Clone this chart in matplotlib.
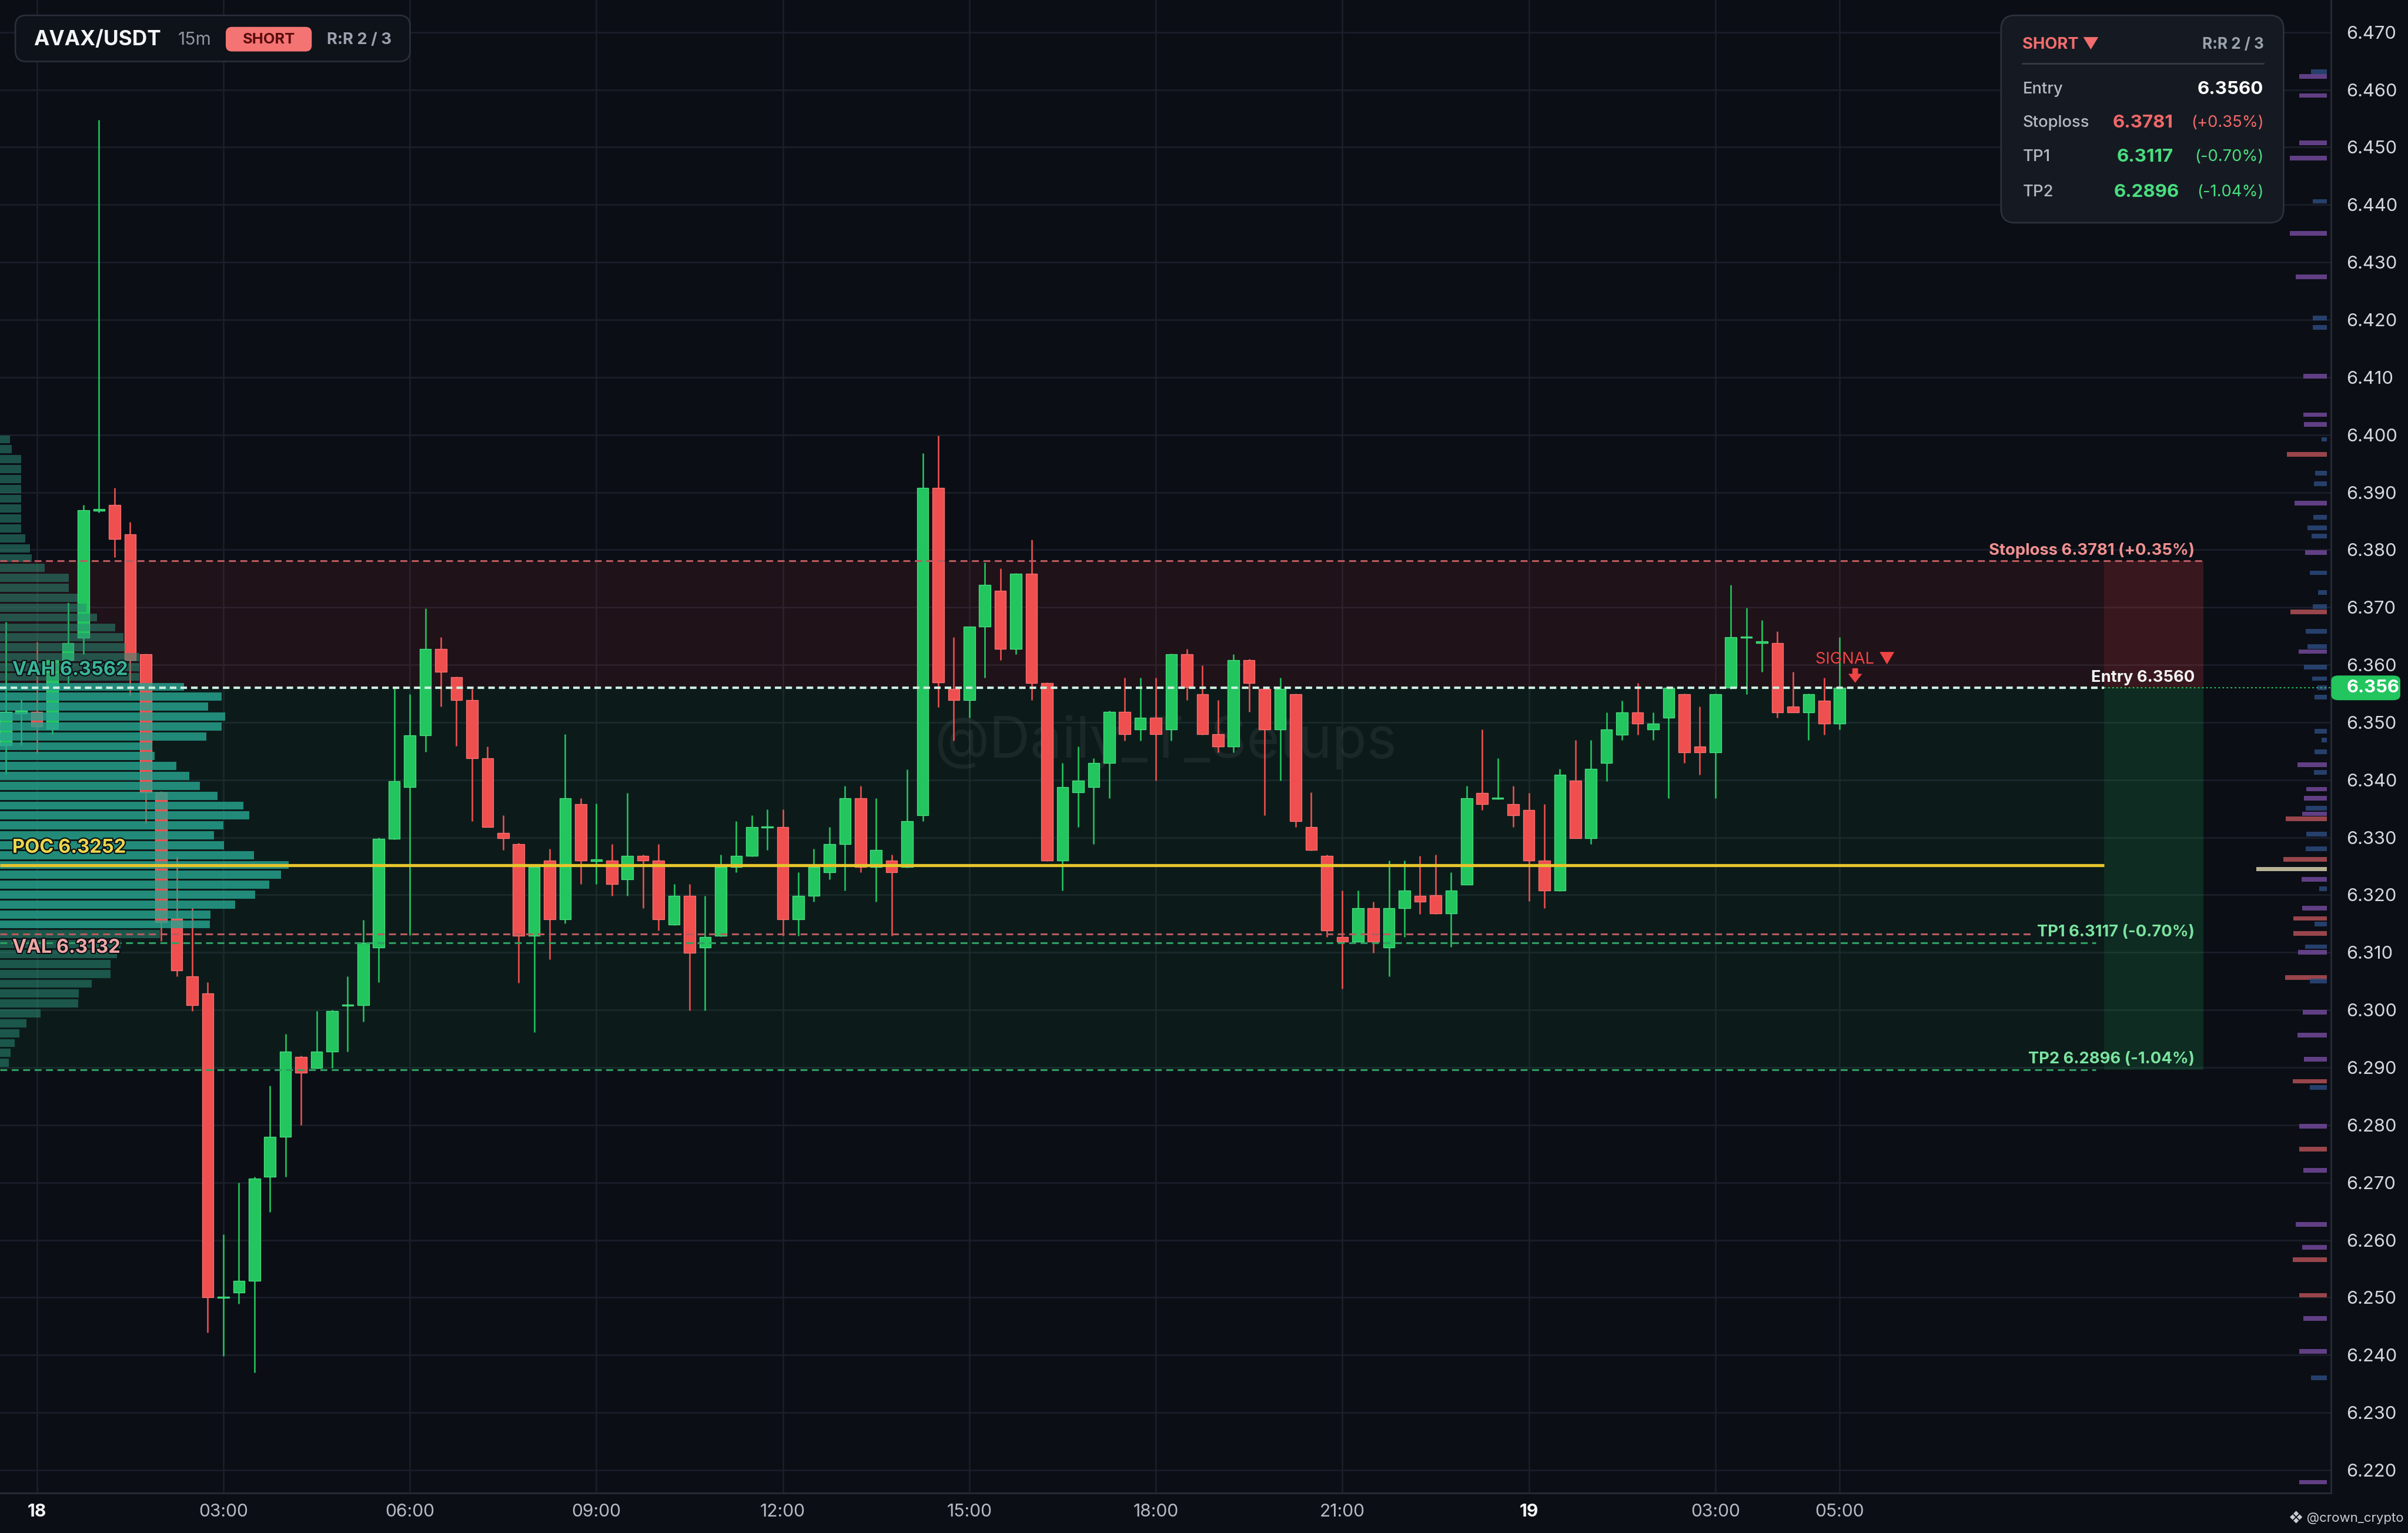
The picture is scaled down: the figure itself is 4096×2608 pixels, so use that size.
import numpy as np
import matplotlib
matplotlib.use("Agg")
import matplotlib.pyplot as plt
import matplotlib.transforms as mtransforms
from matplotlib.patches import FancyBboxPatch, Rectangle
import matplotlib.patheffects as pe

plt.rcParams['font.family'] = ['Inter', 'DejaVu Sans']
plt.rcParams['lines.scale_dashes'] = False

# ---------------- data ----------------
# 15m candles, first one at 23:30 on the 17th
opens = [6.3460, 6.3515, 6.3518, 6.3489, 6.3608, 6.3647, 6.3868, 6.3878, 6.3827, 6.3618,
         6.3378, 6.3159, 6.3058, 6.3029, 6.2499, 6.2509, 6.2529, 6.2710, 6.2779, 6.2918,
         6.2899, 6.2928, 6.3007, 6.3008, 6.3109, 6.3298, 6.3388, 6.3477, 6.3628, 6.3579,
         6.3539, 6.3438, 6.3308, 6.3288, 6.3129, 6.3260, 6.3158, 6.3358, 6.3259, 6.3260,
         6.3227, 6.3268, 6.3260, 6.3148, 6.3198, 6.3109, 6.3129, 6.3249, 6.3268, 6.3317,
         6.3318, 6.3158, 6.3198, 6.3239, 6.3288, 6.3368, 6.3249, 6.3260, 6.3249, 6.3338,
         6.3908, 6.3558, 6.3539, 6.3667, 6.3729, 6.3628, 6.3758, 6.3568, 6.3260, 6.3378,
         6.3388, 6.3429, 6.3518, 6.3488, 6.3508, 6.3488, 6.3618, 6.3549, 6.3479, 6.3458,
         6.3608, 6.3558, 6.3488, 6.3549, 6.3318, 6.3268, 6.3127, 6.3119, 6.3177, 6.3109,
         6.3177, 6.3198, 6.3199, 6.3168, 6.3218, 6.3377, 6.3367, 6.3358, 6.3348, 6.3260,
         6.3208, 6.3399, 6.3299, 6.3429, 6.3478, 6.3517, 6.3488, 6.3508, 6.3549, 6.3458,
         6.3448, 6.3560, 6.3647, 6.3638, 6.3638, 6.3528, 6.3517, 6.3538, 6.3498]
highs = [6.3675, 6.3540, 6.3640, 6.3610, 6.3708, 6.3878, 6.4548, 6.3908, 6.3848, 6.3620,
         6.3380, 6.3267, 6.3178, 6.3048, 6.2610, 6.2700, 6.2710, 6.2868, 6.2958, 6.2920,
         6.2998, 6.3000, 6.3058, 6.3157, 6.3300, 6.3559, 6.3549, 6.3698, 6.3648, 6.3580,
         6.3558, 6.3458, 6.3338, 6.3290, 6.3250, 6.3280, 6.3479, 6.3368, 6.3359, 6.3288,
         6.3377, 6.3270, 6.3288, 6.3219, 6.3219, 6.3198, 6.3270, 6.3328, 6.3338, 6.3349,
         6.3349, 6.3239, 6.3280, 6.3318, 6.3390, 6.3390, 6.3368, 6.3270, 6.3418, 6.3968,
         6.3999, 6.3648, 6.3667, 6.3778, 6.3768, 6.3760, 6.3818, 6.3569, 6.3429, 6.3458,
         6.3438, 6.3520, 6.3578, 6.3578, 6.3578, 6.3620, 6.3628, 6.3599, 6.3539, 6.3618,
         6.3610, 6.3560, 6.3578, 6.3550, 6.3378, 6.3270, 6.3208, 6.3208, 6.3188, 6.3260,
         6.3260, 6.3268, 6.3270, 6.3239, 6.3390, 6.3488, 6.3438, 6.3390, 6.3377, 6.3358,
         6.3419, 6.3469, 6.3469, 6.3517, 6.3538, 6.3568, 6.3517, 6.3560, 6.3550, 6.3528,
         6.3550, 6.3739, 6.3699, 6.3678, 6.3658, 6.3588, 6.3550, 6.3578, 6.3648]
lows = [6.3410, 6.3460, 6.3446, 6.3479, 6.3568, 6.3618, 6.3865, 6.3787, 6.3546, 6.3324,
        6.3120, 6.3058, 6.2998, 6.2439, 6.2398, 6.2489, 6.2370, 6.2649, 6.2710, 6.2800,
        6.2898, 6.2899, 6.2928, 6.2980, 6.3048, 6.3297, 6.3130, 6.3449, 6.3528, 6.3459,
        6.3328, 6.3318, 6.3278, 6.3047, 6.2961, 6.3088, 6.3150, 6.3219, 6.3219, 6.3198,
        6.3198, 6.3177, 6.3138, 6.3147, 6.2999, 6.2999, 6.3128, 6.3239, 6.3267, 6.3278,
        6.3129, 6.3129, 6.3188, 6.3227, 6.3208, 6.3239, 6.3188, 6.3129, 6.3248, 6.3328,
        6.3527, 6.3468, 6.3508, 6.3578, 6.3608, 6.3618, 6.3539, 6.3259, 6.3208, 6.3318,
        6.3288, 6.3368, 6.3468, 6.3468, 6.3399, 6.3468, 6.3539, 6.3478, 6.3448, 6.3448,
        6.3518, 6.3338, 6.3399, 6.3318, 6.3277, 6.3127, 6.3037, 6.3118, 6.3099, 6.3058,
        6.3127, 6.3167, 6.3167, 6.3110, 6.3218, 6.3348, 6.3366, 6.3318, 6.3189, 6.3177,
        6.3207, 6.3299, 6.3288, 6.3398, 6.3469, 6.3478, 6.3469, 6.3368, 6.3429, 6.3409,
        6.3368, 6.3558, 6.3549, 6.3588, 6.3508, 6.3517, 6.3469, 6.3478, 6.3488]
closes = [6.3518, 6.3520, 6.3493, 6.3608, 6.3638, 6.3869, 6.3870, 6.3819, 6.3608, 6.3378,
          6.3152, 6.3069, 6.3008, 6.2500, 6.2501, 6.2529, 6.2707, 6.2779, 6.2928, 6.2891,
          6.2928, 6.2998, 6.3009, 6.3117, 6.3298, 6.3398, 6.3477, 6.3628, 6.3588, 6.3539,
          6.3438, 6.3318, 6.3299, 6.3129, 6.3249, 6.3158, 6.3368, 6.3260, 6.3261, 6.3219,
          6.3268, 6.3260, 6.3158, 6.3198, 6.3099, 6.3127, 6.3249, 6.3268, 6.3318, 6.3319,
          6.3158, 6.3198, 6.3249, 6.3288, 6.3368, 6.3249, 6.3278, 6.3239, 6.3328, 6.3908,
          6.3569, 6.3539, 6.3667, 6.3739, 6.3628, 6.3758, 6.3568, 6.3260, 6.3388, 6.3399,
          6.3429, 6.3518, 6.3479, 6.3508, 6.3479, 6.3618, 6.3561, 6.3479, 6.3458, 6.3608,
          6.3568, 6.3488, 6.3558, 6.3328, 6.3278, 6.3138, 6.3119, 6.3177, 6.3119, 6.3177,
          6.3208, 6.3188, 6.3168, 6.3208, 6.3368, 6.3358, 6.3368, 6.3338, 6.3260, 6.3208,
          6.3409, 6.3299, 6.3419, 6.3488, 6.3517, 6.3498, 6.3498, 6.3560, 6.3448, 6.3448,
          6.3549, 6.3648, 6.3648, 6.3639, 6.3517, 6.3517, 6.3549, 6.3498, 6.3560]

time_ticks = [2, 14, 26, 38, 50, 62, 74, 86, 98, 110, 118]
time_labels = ['18', '03:00', '06:00', '09:00', '12:00', '15:00', '18:00', '21:00', '19', '03:00', '05:00']

entry, stoploss, tp1, tp2 = 6.3560, 6.3781, 6.3117, 6.2896
vah, poc, val = 6.3562, 6.3252, 6.3132
last_price = 6.356

# volume profile (left), top row to bottom row, widths in screen px of the reference
prof_top, prof_bottom = 6.3992, 6.2908
prof_widths = [6.5, 7.7, 13.7, 13.7, 13.7, 13.7, 13.7, 13.7, 13.7, 13.7,
               16.6, 19.7, 20.5, 29.0, 44.8, 44.8, 50.4, 56.4, 63.2, 75.2,
               80.3, 82.0, 90.6, 90.6, 90.6, 119.7, 144.4, 135.6, 146.7, 144.4,
               134.2, 99.1, 100.5, 115.0, 123.4, 130.0, 141.5, 158.6, 162.4, 145.3,
               139.3, 145.8, 165.5, 188.0, 182.9, 175.2, 166.2, 153.0, 137.1, 136.8,
               104.3, 78.6, 76.0, 71.8, 71.8, 59.8, 51.3, 51.0, 26.5, 17.4,
               12.8, 9.4, 6.8, 5.6]

# right edge liquidity bars: price, width (px), kind
heat_prices = [6.4631, 6.4623, 6.4590, 6.4508, 6.4481, 6.4406, 6.4350, 6.4275, 6.4203, 6.4187,
               6.4102, 6.4035, 6.4018, 6.3992, 6.3966, 6.3933, 6.3915, 6.3881, 6.3857, 6.3838,
               6.3824, 6.3795, 6.3760, 6.3726, 6.3701, 6.3692, 6.3658, 6.3632, 6.3623, 6.3596,
               6.3576, 6.3560, 6.3544, 6.3485, 6.3469, 6.3449, 6.3426, 6.3413, 6.3384, 6.3368,
               6.3351, 6.3341, 6.3332, 6.3306, 6.3280, 6.3262, 6.3245, 6.3227, 6.3211, 6.3177,
               6.3159, 6.3149, 6.3133, 6.3110, 6.3100, 6.3056, 6.3050, 6.2996, 6.2956, 6.2914,
               6.2876, 6.2865, 6.2798, 6.2758, 6.2721, 6.2627, 6.2587, 6.2566, 6.2504, 6.2464,
               6.2406, 6.2360, 6.2179]
heat_widths = [10, 18, 18, 18, 24, 9, 24, 20, 9, 9,
               15, 15, 14.7, 3.2, 25.9, 7.3, 8.3, 21, 8.7, 12.4,
               9.8, 14, 10.8, 5.7, 8.9, 23.4, 13.7, 12.4, 18.2, 14.7,
               9.5, 6.0, 7.7, 7.7, 3.2, 7.7, 19.1, 8.3, 13.4, 14.7,
               13.7, 16, 26.8, 13.4, 13.7, 28.3, 45.9, 16.2, 4.7, 16,
               21.7, 7.7, 21.7, 14, 18.5, 27, 11, 15.6, 19, 14.6,
               21.9, 11, 18, 18, 15, 20, 16, 22, 18, 15,
               18, 10, 18]
heat_kinds = ['b', 'p', 'p', 'p', 'p', 'b', 'p', 'p', 'b', 'b',
              'p', 'p', 'p', 'b', 's', 'b', 'b', 'p', 'b', 'b',
              'b', 'p', 'b', 'b', 'b', 's', 'b', 'b', 'p', 'b',
              'b', 'b', 'b', 'b', 'b', 'b', 'p', 'b', 'p', 'p',
              'b', 'p', 's', 'b', 'b', 's', 'c', 'p', 'b', 'p',
              's', 'b', 's', 'b', 'p', 's', 'b', 'p', 'p', 'p',
              's', 'b', 'p', 's', 'p', 'p', 'p', 's', 's', 'p',
              'p', 'b', 'p']

# ---------------- style ----------------
BG = '#0b0e15'
GRID = '#1b1f29'
UP = '#22c55e'
DOWN = '#ef4f4f'
PT = 4096 / 1568 * 72 / 100   # points per reference pixel
PX_PER_BAR = 10.12
heat_colors = {'b': '#2c4a7c', 'p': '#71489a', 's': '#b24f55', 'c': '#d8d0ad'}

fig = plt.figure(figsize=(40.96, 26.08), dpi=100, facecolor=BG)
ax = fig.add_axes([0, 26 / 998, 1518 / 1568, 972 / 998])
ax.set_facecolor(BG)

n = len(opens)
idx = np.arange(n)
x_left = -3.75 / PX_PER_BAR
x_right = (1518 - 3.75) / PX_PER_BAR
x_proj0, x_proj1 = 135.0, 141.4
ax.set_xlim(x_left, x_right)
ax.set_ylim(6.2160, 6.4756)

# grid / ticks
ax.set_yticks(np.round(np.arange(6.22, 6.4701, 0.01), 3))
ax.yaxis.set_major_formatter(matplotlib.ticker.FormatStrFormatter('%.3f'))
ax.yaxis.tick_right()
ax.set_xticks(time_ticks)
ax.set_xticklabels(time_labels)
ax.tick_params(axis='y', length=0, pad=10 * PT, labelsize=11.8 * PT, labelcolor='#d5d8de')
ax.tick_params(axis='x', length=0, pad=7 * PT, labelsize=11.5 * PT, labelcolor='#b7bac2')
for lab in ax.get_xticklabels():
    if lab.get_text() in ('18', '19'):
        lab.set_fontweight('bold')
        lab.set_color('#f2f3f5')
ax.grid(True, color=GRID, lw=1.0 * PT)
ax.set_axisbelow(True)
for s in ('top', 'left'):
    ax.spines[s].set_visible(False)
for s in ('right', 'bottom'):
    ax.spines[s].set_color('#2a2e39')
    ax.spines[s].set_linewidth(1.0 * PT)

# risk / reward zones
ax.fill_between([x_left, x_proj0], entry, stoploss, color='#ef4444', alpha=0.09, lw=0, zorder=1)
ax.fill_between([x_proj0, x_proj1], entry, stoploss, color='#ef4444', alpha=0.20, lw=0, zorder=1)
ax.fill_between([x_left, x_proj0], tp2, entry, color=UP, alpha=0.075, lw=0, zorder=1)
ax.fill_between([x_proj0, x_proj1], tp2, entry, color=UP, alpha=0.17, lw=0, zorder=1)

ax.text(0.5, 0.503, '@Daily_T_Setups', transform=ax.transAxes, ha='center', va='center',
        fontsize=37 * PT, color=(1, 1, 1, 0.06), zorder=1.5)

# candles
o = np.array(opens); h = np.array(highs); l = np.array(lows); c = np.array(closes)
up = c >= o
cols = np.where(up, UP, DOWN)
ax.vlines(idx, l, h, colors=cols, lw=1.0 * PT, zorder=3)
body_lo = np.minimum(o, c)
body_h = np.maximum(np.abs(c - o), 0.00025)
ax.bar(idx, body_h, bottom=body_lo, width=0.74, color=cols,
       edgecolor=np.where(up, '#4ade80', '#f87171'), linewidth=0.5 * PT, zorder=3)

# heat bars at right edge
hx1 = (1515 - 3.75) / PX_PER_BAR
hw = np.array(heat_widths) / PX_PER_BAR
ax.barh(heat_prices, hw, left=hx1 - hw, height=0.0008,
        color=[heat_colors[k] for k in heat_kinds], alpha=0.85, lw=0, zorder=3)

# volume profile
rows = np.linspace(prof_top, prof_bottom, len(prof_widths))
step = (prof_top - prof_bottom) / (len(prof_widths) - 1)
pw = np.array(prof_widths) / PX_PER_BAR
in_va = (rows <= vah) & (rows >= val)
ax.barh(rows[in_va], pw[in_va], left=x_left, height=step * 0.82,
        color='#26a38f', alpha=0.82, lw=0, zorder=4)
ax.barh(rows[~in_va], pw[~in_va], left=x_left, height=step * 0.82,
        color='#2b8a74', alpha=0.55, lw=0, zorder=4)

# level lines
ax.hlines(stoploss, x_left, x_proj1, colors='#b95a5e', lw=1.2 * PT, linestyles=(0, (8.5, 5.5)), zorder=5)
ax.hlines(val, x_left, 130.5, colors='#b95a5e', lw=1.2 * PT, linestyles=(0, (8.5, 5.5)), zorder=5)
ax.hlines(tp1, x_left, 134.5, colors='#2f9e62', lw=1.2 * PT, linestyles=(0, (8.5, 5.5)), zorder=5)
ax.hlines(tp2, x_left, 134.5, colors='#2f9e62', lw=1.2 * PT, linestyles=(0, (8.5, 5.5)), zorder=5)
ax.hlines(entry, x_left, x_proj0, colors='#cdeee0', lw=1.6 * PT, linestyles=(0, (8, 5)), zorder=5)
ax.hlines(last_price, x_proj0, x_right, colors=UP, lw=0.8 * PT, linestyles=(0, (2, 3)), zorder=5)
ax.hlines(poc, x_left, x_proj0, colors='#e6c42c', lw=2.0 * PT, zorder=5)

outline = [pe.withStroke(linewidth=3, foreground=BG)]
lab_x = x_left + 8 / PX_PER_BAR
ax.text(lab_x, vah + 0.0029, 'VAH 6.3562', color='#38b597', fontsize=12.5 * PT, fontweight='bold',
        va='center', zorder=6, path_effects=outline)
ax.text(lab_x, poc + 0.0030, 'POC 6.3252', color='#ebd64c', fontsize=12.5 * PT, fontweight='bold',
        va='center', zorder=6, path_effects=outline)
ax.text(lab_x, val - 0.0024, 'VAL 6.3132', color='#eea7a4', fontsize=12.5 * PT, fontweight='bold',
        va='center', zorder=6, path_effects=outline)

rx = x_proj1 - 0.55
ax.text(rx, stoploss + 0.0004, 'Stoploss 6.3781 (+0.35%)', ha='right', va='bottom',
        color='#f29090', fontsize=10.5 * PT, fontweight='bold', zorder=6)
ax.text(rx, entry + 0.0004, 'Entry 6.3560', ha='right', va='bottom',
        color='#f2f4f5', fontsize=10.5 * PT, fontweight='bold', zorder=6)
ax.text(rx, tp1 + 0.0005, 'TP1 6.3117 (-0.70%)', ha='right', va='bottom',
        color='#7be3a0', fontsize=10.5 * PT, fontweight='bold', zorder=6)
ax.text(rx, tp2 + 0.0005, 'TP2 6.2896 (-1.04%)', ha='right', va='bottom',
        color='#7be3a0', fontsize=10.5 * PT, fontweight='bold', zorder=6)

# signal marker
ax.text(119.0, 6.3610, 'SIGNAL ▼', ha='center', va='center', color='#ef4444',
        fontsize=10.5 * PT, zorder=6)
ax.annotate('', xy=(119.0, 6.3566), xytext=(119.0, 6.3597),
            arrowprops=dict(arrowstyle='simple,head_width=1.7,head_length=1.1,tail_width=0.7',
                            color='#ef4444', lw=0), zorder=6)

# last price tag on the axis
blend = mtransforms.blended_transform_factory(ax.transAxes, ax.transData)
ax.add_patch(FancyBboxPatch((1.0, last_price - 0.00215), 45 / 1518, 0.0043,
                            boxstyle='round,pad=0,rounding_size=0.003', mutation_aspect=0.3,
                            transform=blend, facecolor=UP, edgecolor='none', clip_on=False, zorder=7))
ax.text(1.0 + 10 / 1518, last_price, '6.356', transform=blend, ha='left', va='center',
        color='white', fontsize=11.8 * PT, fontweight='bold', clip_on=False, zorder=8)

# ---------------- overlay (reference pixel coords) ----------------
ov = fig.add_axes([0, 0, 1, 1])
ov.set_xlim(0, 1568)
ov.set_ylim(998, 0)
ov.axis('off')
ov.patch.set_alpha(0)
ov.set_zorder(ax.get_zorder() + 1)

# top-left badge
ov.add_patch(FancyBboxPatch((10, 10), 257, 30, boxstyle='round,pad=0,rounding_size=7',
                            facecolor='#0e1219', edgecolor='#2a2f3a', lw=1.0 * PT))
ov.text(22, 26, 'AVAX/USDT', color='#f3f5f8', fontsize=13.5 * PT, fontweight='bold', va='center')
ov.text(116, 26, '15m', color='#8e95a1', fontsize=11.5 * PT, va='center')
ov.add_patch(FancyBboxPatch((147, 17.5), 56, 16, boxstyle='round,pad=0,rounding_size=4',
                            facecolor='#f47474', edgecolor='none'))
ov.text(175, 26, 'SHORT', color='#5a0c0c', fontsize=9.8 * PT, fontweight='bold', ha='center', va='center')
ov.text(213, 26, 'R:R 2 / 3', color='#9ba2ad', fontsize=10.5 * PT, fontweight='bold', va='center')

# trade panel
ov.add_patch(FancyBboxPatch((1303, 10), 184, 135, boxstyle='round,pad=0,rounding_size=9',
                            facecolor='#151a22', edgecolor='#2c323c', lw=1.0 * PT))
ov.text(1317, 29, 'SHORT ▼', color='#f26d6d', fontsize=10.5 * PT, fontweight='bold', va='center')
ov.text(1474, 29, 'R:R 2 / 3', color='#9ba2ad', fontsize=10 * PT, fontweight='bold', va='center', ha='right')
ov.plot([1317, 1474], [41.5, 41.5], color='#373d48', lw=1.0 * PT)
for y, name in zip([58, 80, 102, 125], ['Entry', 'Stoploss', 'TP1', 'TP2']):
    ov.text(1317, y, name, color='#b5bac2', fontsize=10.5 * PT, fontweight='medium', va='center')
ov.text(1474, 58, '6.3560', color='#ffffff', fontsize=12 * PT, fontweight='bold', va='center', ha='right')
ov.text(1415, 80, '6.3781', color='#f06868', fontsize=12 * PT, fontweight='bold', va='center', ha='right')
ov.text(1474, 80, '(+0.35%)', color='#f06868', fontsize=10.5 * PT, va='center', ha='right')
ov.text(1415, 102, '6.3117', color='#4ade80', fontsize=12 * PT, fontweight='bold', va='center', ha='right')
ov.text(1474, 102, '(-0.70%)', color='#4ade80', fontsize=10.5 * PT, va='center', ha='right')
ov.text(1419, 125, '6.2896', color='#4ade80', fontsize=12 * PT, fontweight='bold', va='center', ha='right')
ov.text(1474, 125, '(-1.04%)', color='#4ade80', fontsize=10.5 * PT, va='center', ha='right')

ov.text(1565, 988, '❖ @crown_crypto', color='#c8ccd3', fontsize=8.5 * PT, va='center', ha='right')

fig.savefig('out.png', dpi=100, facecolor=BG)
